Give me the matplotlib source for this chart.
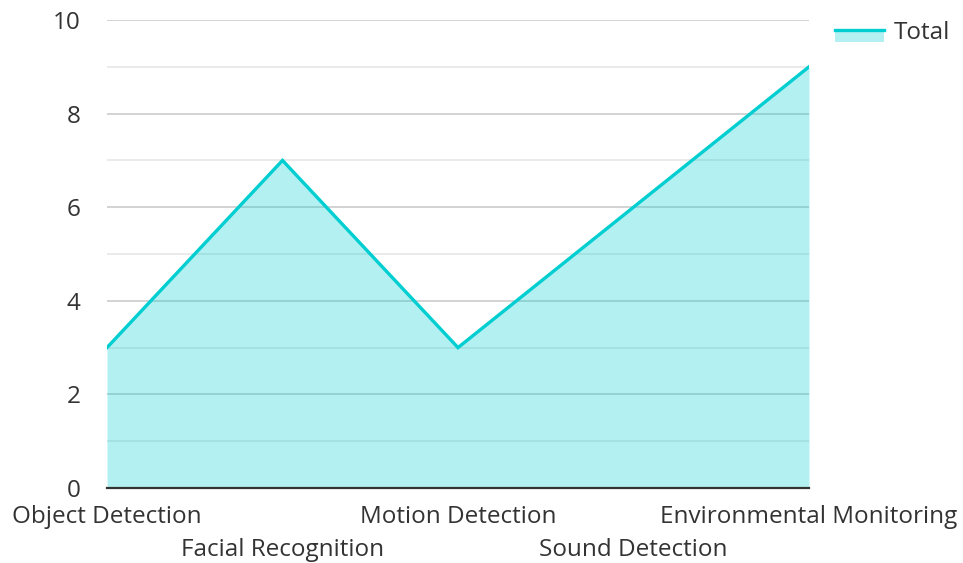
import matplotlib
matplotlib.use("Agg")
import matplotlib.pyplot as plt
from matplotlib.legend_handler import HandlerBase
from matplotlib.patches import Rectangle
from matplotlib.lines import Line2D
from matplotlib.ticker import MultipleLocator

categories = ["Object Detection", "Facial Recognition", "Motion Detection",
              "Sound Detection", "Environmental Monitoring"]
totals = [3, 7, 3, 6, 9]
series_name = "Total"

LINE_COLOR = "#00ced1"
TEXT_COLOR = "#333333"
FONT_SIZE = 17.5

plt.rcParams["font.family"] = ["Open Sans", "DejaVu Sans"]

fig = plt.figure(figsize=(9.63, 5.63), dpi=100)
ax = fig.add_axes([107 / 963, 1 - 488 / 563, 702 / 963, 468 / 563])

x = list(range(len(categories)))
ax.fill_between(x, totals, 0, color=LINE_COLOR, alpha=0.3, linewidth=0, zorder=3)
line, = ax.plot(x, totals, color=LINE_COLOR, linewidth=2.4, zorder=4,
                solid_joinstyle="miter", label=series_name)

ax.set_xlim(0, len(categories) - 1)
ax.set_ylim(0, 10)
ax.yaxis.set_major_locator(MultipleLocator(2))
ax.yaxis.set_minor_locator(MultipleLocator(1))
ax.grid(which="major", axis="y", color="#cccccc", linewidth=1.2, zorder=1)
ax.grid(which="minor", axis="y", color="#e6e6e6", linewidth=1.2, zorder=1)
ax.set_axisbelow(True)

for side in ("left", "right", "top"):
    ax.spines[side].set_visible(False)
ax.spines["bottom"].set_color(TEXT_COLOR)
ax.spines["bottom"].set_linewidth(1.6)
ax.spines["bottom"].set_zorder(5)

ax.tick_params(axis="y", which="both", length=0, pad=19, labelsize=FONT_SIZE,
               labelcolor=TEXT_COLOR)
ax.tick_params(axis="x", which="both", length=0, labelbottom=False)

for i, name in enumerate(categories):
    offset = 0.062 if i % 2 == 0 else 0.133
    ax.text(i, -offset, name, transform=ax.get_xaxis_transform(),
            ha="center", va="center", fontsize=FONT_SIZE, color=TEXT_COLOR)


class AreaLineHandler(HandlerBase):
    """Legend key: a line with the translucent area swatch hanging below it."""

    def create_artists(self, legend, orig_handle, xdescent, ydescent,
                       width, height, fontsize, trans):
        top = height * 0.55
        depth = 8.6
        patch = Rectangle((-xdescent, top - depth), width, depth,
                          facecolor=LINE_COLOR, alpha=0.3, linewidth=0,
                          transform=trans)
        ln = Line2D([-xdescent, -xdescent + width], [top, top],
                    color=LINE_COLOR, linewidth=2.4, transform=trans)
        return [patch, ln]


leg = fig.legend([line], [series_name], handler_map={line: AreaLineHandler()},
                 loc="upper left", bbox_to_anchor=(835 / 963, 1 - 21 / 563),
                 frameon=False, fontsize=FONT_SIZE, handlelength=2.0,
                 handleheight=0.7, handletextpad=0.4, borderaxespad=0,
                 borderpad=0)
for t in leg.get_texts():
    t.set_color(TEXT_COLOR)

fig.savefig("out.png", dpi=100)
